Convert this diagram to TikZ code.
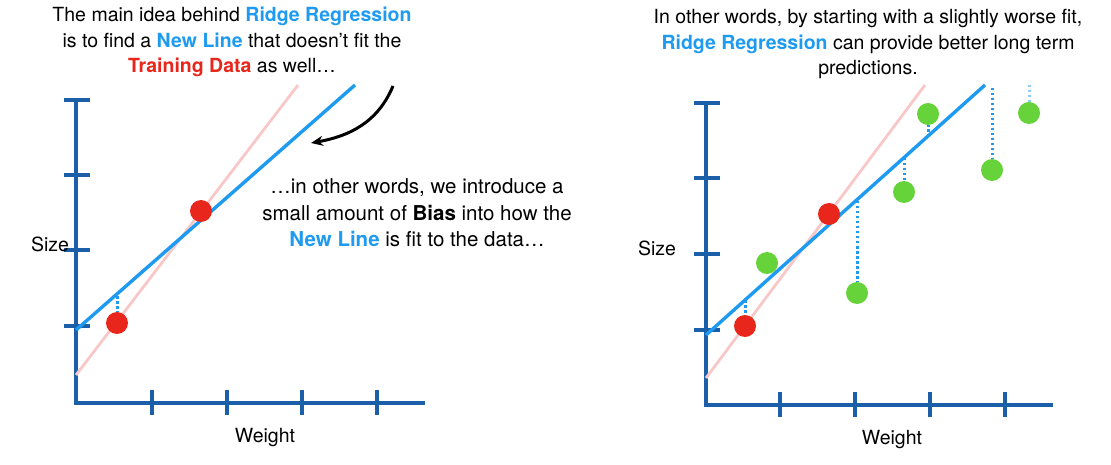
\documentclass[tikz,border=0pt]{standalone}
\usepackage{fontspec}
\setmainfont{TeX Gyre Heros}
\usetikzlibrary{arrows.meta}
\begin{document}
\definecolor{axb}{HTML}{1A5FA8}
\definecolor{lb}{HTML}{1E9BF0}
\definecolor{rd}{HTML}{E8261C}
\definecolor{gr}{HTML}{66D33A}
\definecolor{pk}{HTML}{F8C8C8}
\begin{tikzpicture}[x=1pt,y=-1pt,
 ax/.style={axb,line width=3.4pt},
 pink/.style={pk,line width=2.8pt},
 fit/.style={lb,line width=3.4pt},
 dot/.style={circle,minimum size=22pt,inner sep=0pt,draw=none},
 res/.style={lb,line width=3pt,dash pattern=on 2.5pt off 2.5pt},
 txt/.style={font=\fontsize{19.5}{25.5}\selectfont,align=center}]
\useasboundingbox (0,0) rectangle (1111,465);
% left
\coordinate (ly0) at (76,100); \coordinate (lo) at (76,403); \coordinate (lx1) at (425,403);
\draw[ax] (ly0) -- (lo) -- (lx1);
\foreach \y in {100,175,250,326}{\draw[ax] (64,\y) -- (90,\y);}
\foreach \x in {152,227,302,377}{\draw[ax] (\x,390) -- (\x,415);}
\node[txt] (ls) at (50,244) {Size};
\node[txt] (lw) at (265,438) {Weight};
\coordinate (lp0) at (76,375); \coordinate (lp1) at (298,85);
\draw[pink] (lp0) -- (lp1);
\coordinate (lb0) at (76,330); \coordinate (lb1) at (355,85);
\draw[fit] (lb0) -- (lb1);
\coordinate (lr1t) at (117,296);
\node[dot,fill=rd] (lr1) at (117,323) {};
\draw[res] (lr1t) -- (lr1.north);
\node[dot,fill=rd] (lr2) at (201,211) {};
\coordinate (as) at (393,86); \coordinate (ae) at (311,143);
\draw[line width=3pt,-{Stealth[length=12pt,width=10pt]}] (as) .. controls (378,122) and (350,136) .. (ae);
\node[txt,font=\fontsize{20.5}{26.5}\selectfont] (t2) at (417,213) {…in other words, we introduce a\\small amount of \textbf{Bias} into how the\\\textbf{\color{lb}New Line} is fit to the data…};
\node[txt] (t1) at (232,42) {The main idea behind \textbf{\color{lb}Ridge Regression}\\is to find a \textbf{\color{lb}New Line} that doesn’t fit the\\\textbf{\color{rd}Training Data} as well…};
% right
\coordinate (ry0) at (706,103); \coordinate (ro) at (706,405); \coordinate (rx1) at (1053,405);
\draw[ax] (ry0) -- (ro) -- (rx1);
\foreach \y in {103,178,254,330}{\draw[ax] (694,\y) -- (720,\y);}
\foreach \x in {780,855,930,1005}{\draw[ax] (\x,392) -- (\x,417);}
\node[txt] (rs) at (657,248) {Size};
\node[txt] (rw) at (892,440) {Weight};
\coordinate (rp0) at (706,378); \coordinate (rp1) at (925,85);
\draw[pink] (rp0) -- (rp1);
\coordinate (rb0) at (706,335); \coordinate (rb1) at (985,85);
\draw[fit] (rb0) -- (rb1);
\coordinate (c1) at (745,300); \coordinate (c2) at (857,201); \coordinate (c3) at (904,158);
\coordinate (c4) at (928,137); \coordinate (c5) at (992,88); \coordinate (c6) at (1029,85);
\node[dot,fill=rd] (rr1) at (745,326) {};
\node[dot,fill=rd] (rr2) at (829,214) {};
\node[dot,fill=gr] (g1) at (767,263) {};
\node[dot,fill=gr] (g2) at (857,293) {};
\node[dot,fill=gr] (g3) at (904,192) {};
\node[dot,fill=gr] (g4) at (928,114) {};
\node[dot,fill=gr] (g5) at (992,170) {};
\node[dot,fill=gr] (g6) at (1029,113) {};
\draw[res] (c1) -- (rr1.north);
\draw[res] (c2) -- (g2.north);
\draw[res] (c3) -- (g3.north);
\draw[res] (c4) -- (g4.south);
\draw[res] (c5) -- (g5.north);
\draw[res,opacity=0.5] (c6) -- (g6.north);
\node[txt] (t3) at (868,44) {In other words, by starting with a slightly worse fit,\\\textbf{\color{lb}Ridge Regression} can provide better long term\\predictions.};
\end{tikzpicture}
\end{document}
